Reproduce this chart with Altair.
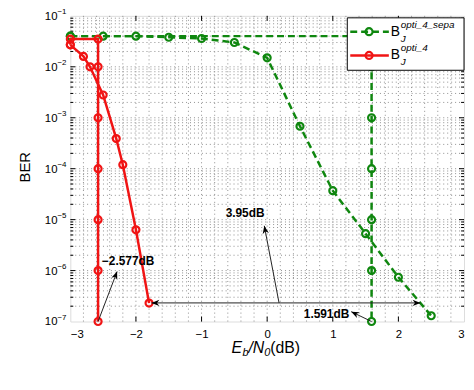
import numpy as np
import pandas as pd
import altair as alt

# ---------------- data ----------------
g_curve_x = [-3, -2.5, -2, -1.5, -1, -0.5, 0, 0.5, 1, 1.5, 2, 2.5]
g_curve_ber = [0.040, 0.040, 0.040, 0.038, 0.036, 0.030, 0.015, 6.8e-4, 3.7e-5, 5.3e-6, 7.4e-7, 1.3e-7]
g_limit_x = [-3, 1.591, 1.591, 1.591, 1.591, 1.591, 1.591, 1.591]
g_limit_ber = [0.040, 0.040, 1e-2, 1e-3, 1e-4, 1e-5, 1e-6, 1e-7]

r_curve_x = [-3, -2.8, -2.7, -2.5, -2.3, -2.2, -2.0, -1.8]
r_curve_ber = [0.027, 0.016, 0.010, 2.8e-3, 3.9e-4, 1.2e-4, 6.3e-6, 2.3e-7]
r_limit_x = [-3, -3, -2.577, -2.577, -2.577, -2.577, -2.577, -2.577, -2.577]
r_limit_ber = [0.027, 0.035, 0.035, 1e-2, 1e-3, 1e-4, 1e-5, 1e-6, 1e-7]

legend_sup = ["opti_4_sepa", "opti_4"]
legend_base = ["B", "B"]
legend_sub = ["J", "J"]

x_ticks = [-3, -2, -1, 0, 1, 2, 3]
y_exps = [-7, -6, -5, -4, -3, -2, -1]

ann_text = ["3.95dB", "\u22122.577dB", "1.591dB"]
ann_x = [-0.633, -2.518, 0.558]
ann_ber = [1.34e-5, 1.55e-6, 1.43e-7]

# arrows: tail (x1, b1) -> tip (x2, b2)
arr_x1 = [0.181, -2.577, 1.591, 2.337]
arr_b1 = [2.32e-7, 1e-7, 1e-7, 2.32e-7]
arr_x2 = [-0.044, -2.287, 1.281, -1.764]
arr_b2 = [7.57e-6, 9.6e-7, 1.56e-7, 2.32e-7]
double_headed = [False, False, False, True]

# ---------------- geometry ----------------
W, H = 398, 309
FONT = "Liberation Sans"
GREEN = "#0f870f"
RED = "#f01414"


def px(x):
    return (x + 3) / 6 * W


def py(b):
    return (-1 - np.log10(b)) / 6 * H


def series_df(xs, bs, name):
    return pd.DataFrame({"x": xs, "ber": bs, "series": name, "idx": range(len(xs))})


green_df = pd.concat([series_df(g_curve_x, g_curve_ber, "gc"), series_df(g_limit_x, g_limit_ber, "gl")])
red_df = pd.concat([series_df(r_curve_x, r_curve_ber, "rc"), series_df(r_limit_x, r_limit_ber, "rl")])

xscale = alt.Scale(domain=[-3, 3], nice=False, zero=False)
yscale = alt.Scale(type="log", domain=[1e-7, 1e-1], nice=False)
xaxis = alt.Axis(values=x_ticks, ticks=False, domain=False, grid=False, title=None,
                 labelFont=FONT, labelFontSize=11.5, labelColor="black", labelPadding=7)
X = alt.X("x:Q", scale=xscale, axis=xaxis)
Y = alt.Y("ber:Q", scale=yscale, axis=None)

# grid
gx = [round(v, 1) for v in np.arange(-2.8, 3.0, 0.2)]
gy = [k * 10.0 ** e for e in range(-7, -1) for k in range(1, 10)][1:]
grid_x = alt.Chart(pd.DataFrame({"x": gx})).mark_rule(
    color="#8f8f8f", strokeDash=[1, 3], strokeWidth=1).encode(x=X)
grid_y = alt.Chart(pd.DataFrame({"ber": gy})).mark_rule(
    color="#8f8f8f", strokeDash=[1, 3], strokeWidth=1).encode(y=Y)

# inside ticks
xt = pd.DataFrame({"x": x_ticks[1:-1]})
tick_xb = alt.Chart(xt).mark_rule(color="black").encode(x=X, y=alt.value(H), y2=alt.value(H - 5))
tick_xt = alt.Chart(xt).mark_rule(color="black").encode(x=X, y=alt.value(0), y2=alt.value(5))
yt = pd.DataFrame({"ber": [10.0 ** e for e in y_exps[1:-1]]})
ytm = pd.DataFrame({"ber": [k * 10.0 ** e for e in range(-7, -1) for k in range(2, 10)]})
tick_yl = alt.Chart(yt).mark_rule(color="black").encode(y=Y, x=alt.value(0), x2=alt.value(5))
tick_yr = alt.Chart(yt).mark_rule(color="black").encode(y=Y, x=alt.value(W), x2=alt.value(W - 5))
tick_yml = alt.Chart(ytm).mark_rule(color="black").encode(y=Y, x=alt.value(0), x2=alt.value(3))
tick_ymr = alt.Chart(ytm).mark_rule(color="black").encode(y=Y, x=alt.value(W), x2=alt.value(W - 3))

# y tick labels
ylab = pd.DataFrame({"ber": [10.0 ** e for e in y_exps],
                     "base": "10",
                     "sup": ["\u2212" + str(-e) for e in y_exps]})
ylab_base = alt.Chart(ylab).mark_text(align="right", baseline="middle", font=FONT, fontSize=11.5,
                                      color="black", dy=1).encode(
    y=Y, x=alt.value(-13), text="base:N")
ylab_sup = alt.Chart(ylab).mark_text(align="left", baseline="middle", font=FONT, fontSize=8,
                                     color="black", dy=-4).encode(
    y=Y, x=alt.value(-13), text="sup:N")

# data series
def lines(df, color, dash):
    kw = dict(color=color, strokeWidth=2.5)
    if dash:
        kw["strokeDash"] = [7, 4]
    ln = alt.Chart(df).mark_line(**kw).encode(x=X, y=Y, detail="series:N", order="idx:Q")
    pt = alt.Chart(df).mark_point(color=color, filled=False, size=50, strokeWidth=2.2, opacity=1).encode(x=X, y=Y)
    return ln, pt


g_line, g_pts = lines(green_df, GREEN, True)
r_line, r_pts = lines(red_df, RED, False)

# annotations
ann_df = pd.DataFrame({"x": ann_x, "ber": ann_ber, "label": ann_text})
ann = alt.Chart(ann_df).mark_text(align="left", baseline="middle", font=FONT, fontSize=12,
                                  fontWeight="bold", color="black").encode(x=X, y=Y, text="label:N")

shaft_df = pd.DataFrame({"x": arr_x1, "ber": arr_b1, "x2": arr_x2, "ber2": arr_b2})
shafts = alt.Chart(shaft_df).mark_rule(color="#222222", strokeWidth=1).encode(
    x=X, y=Y, x2="x2:Q", y2="ber2:Q")

hx, hb, ha = [], [], []
for x1, b1, x2, b2, dbl in zip(arr_x1, arr_b1, arr_x2, arr_b2, double_headed):
    dx, dy = px(x2) - px(x1), py(b2) - py(b1)
    hx.append(x2); hb.append(b2); ha.append(np.degrees(np.arctan2(dy, dx)) % 360)
    if dbl:
        hx.append(x1); hb.append(b1); ha.append(np.degrees(np.arctan2(-dy, -dx)) % 360)
head_df = pd.DataFrame({"x": hx, "ber": hb, "ang": ha})
heads = alt.Chart(head_df).mark_point(
    shape="M0,0 L-2,-0.8 L-1.4,0 L-2,0.8 Z", filled=True, color="black", size=64, opacity=1,
    strokeWidth=0).encode(x=X, y=Y, angle=alt.Angle("ang:Q", scale=None))

# axis titles
one = pd.DataFrame({"a": [0]})
ber_title = alt.Chart(one).mark_text(text="BER", font=FONT, fontSize=15, angle=270,
                                     align="center", baseline="middle", color="black").encode(
    x=alt.value(-46), y=alt.value(153))
xt_parts = [("E", 163, 336, 16, "italic"), ("b", 174, 341, 11, "italic"),
            ("/N", 180, 336, 16, "italic"), ("0", 196, 341, 11, "italic"),
            ("(dB)", 202, 336, 16, "normal")]
xtitle = [alt.Chart(one).mark_text(text=t, font=FONT, fontSize=fs, fontStyle=st, align="left",
                                   baseline="middle", color="black").encode(
    x=alt.value(xx), y=alt.value(yy)) for t, xx, yy, fs, st in xt_parts]

# legend
leg_box = alt.Chart(one).mark_rect(fill="white", stroke="black", strokeWidth=1).encode(
    x=alt.value(280), x2=alt.value(W), y=alt.value(2), y2=alt.value(55))
leg_layers = [leg_box]
for i, (col, dash, yy) in enumerate([(GREEN, True, 16), (RED, False, 40)]):
    kw = dict(color=col, strokeWidth=2.5)
    if dash:
        kw["strokeDash"] = [7, 4]
    leg_layers.append(alt.Chart(one).mark_rule(**kw).encode(
        x=alt.value(283), x2=alt.value(322), y=alt.value(yy)))
    leg_layers.append(alt.Chart(one).mark_point(color=col, filled=False, size=50, strokeWidth=2.2,
                                                opacity=1).encode(x=alt.value(302), y=alt.value(yy)))
    leg_layers.append(alt.Chart(one).mark_text(text=legend_base[i], font=FONT, fontSize=14,
                                               align="left", baseline="middle", color="black").encode(
        x=alt.value(324), y=alt.value(yy)))
    leg_layers.append(alt.Chart(one).mark_text(text=legend_sup[i], font=FONT, fontSize=10,
                                               fontStyle="italic", align="left", baseline="middle",
                                               color="black").encode(
        x=alt.value(334), y=alt.value(yy - 7)))
    leg_layers.append(alt.Chart(one).mark_text(text=legend_sub[i], font=FONT, fontSize=10,
                                               fontStyle="italic", align="left", baseline="middle",
                                               color="black").encode(
        x=alt.value(334), y=alt.value(yy + 7)))

chart = alt.layer(
    grid_x, grid_y, tick_xb, tick_xt, tick_yl, tick_yr, tick_yml, tick_ymr,
    g_line, g_pts, r_line, r_pts, shafts, heads, ann, ylab_base, ylab_sup, ber_title,
    *xtitle, *leg_layers
).properties(
    width=W, height=H,
    autosize=alt.AutoSizeParams(type="none"),
    padding={"left": 63, "top": 6, "right": 2, "bottom": 42},
).configure_view(stroke="black", strokeWidth=1).configure(background="white")

chart.save("out.html", embed_options={"renderer": "svg", "actions": False})
